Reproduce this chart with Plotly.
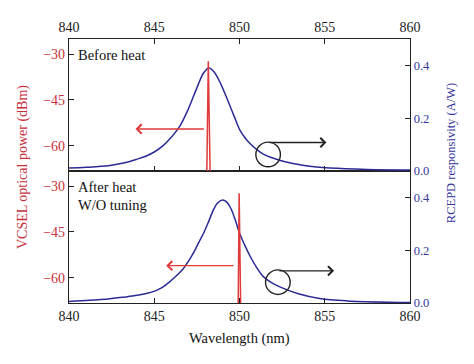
import plotly.graph_objects as go

# ---------------- data ----------------
wl_top = [840.0, 841.0, 842.4, 843.2, 844.0, 844.5, 845.0, 845.5, 846.0, 846.5, 847.0, 847.5,
          847.9, 848.2, 848.5, 848.9, 849.2, 849.45, 849.7, 850.0, 850.3, 850.6, 851.0, 851.4,
          851.9, 852.4, 853.0, 853.7, 854.5, 855.3, 857.5, 860.0]
resp_top = [0.011, 0.014, 0.021, 0.030, 0.045, 0.056, 0.072, 0.095, 0.128, 0.17, 0.235, 0.315,
            0.372, 0.39, 0.376, 0.33, 0.285, 0.245, 0.205, 0.158, 0.128, 0.105, 0.082, 0.064,
            0.050, 0.040, 0.030, 0.022, 0.015, 0.011, 0.006, 0.004]

wl_bot = [840.0, 841.2, 842.4, 843.2, 844.0, 844.6, 845.1, 845.5, 845.9, 846.3, 846.7, 847.0,
          847.3, 847.6, 847.9, 848.2, 848.45, 848.7, 849.0, 849.25, 849.5, 849.75, 850.0, 850.3,
          850.6, 851.0, 851.4, 851.9, 852.4, 853.4, 854.7, 856.3, 860.0]
resp_bot = [0.006, 0.010, 0.016, 0.022, 0.029, 0.037, 0.047, 0.060, 0.080, 0.103, 0.13, 0.158,
            0.19, 0.228, 0.265, 0.31, 0.35, 0.378, 0.39, 0.382, 0.357, 0.315, 0.265, 0.22,
            0.18, 0.135, 0.10, 0.076, 0.06, 0.036, 0.017, 0.008, 0.002]

vcsel_wl_top = [848.08, 848.17, 848.28]
vcsel_pw_top = [-70.0, -32.4, -70.0]
vcsel_wl_bot = [849.92, 849.98, 850.07]
vcsel_pw_bot = [-70.0, -32.4, -70.0]

x_ticks = [840, 845, 850, 855, 860]
p_ticks = [-30, -45, -60]
r_ticks = [0.0, 0.2, 0.4]

# arrow / circle annotation positions (data coordinates)
top_red_arrow = dict(tail=(848.0, -54.5), tip=(843.9, -54.5))
top_circle = (851.68, -62.8)
top_black_arrow = dict(tail=(851.68, -58.9), tip=(855.1, -58.9))
bot_red_arrow = dict(tail=(849.74, -56.0), tip=(845.7, -56.0))
bot_circle = (852.25, -61.4)
bot_black_arrow = dict(tail=(852.25, -57.7), tip=(855.55, -57.7))

# ---------------- style ----------------
FONT = "Liberation Serif, Times New Roman, DejaVu Serif, serif"
BLUE = "#2b2b96"
RED = "#e03a3a"
RED_TXT = "#c8303a"
BLUE_TXT = "#35359a"
AX = "#222222"
P_RANGE = [-68.2, -25.1]
R_RANGE = [0, 0.5]

fig = go.Figure()

# blue responsivity (base axes)
fig.add_trace(go.Scatter(x=wl_top, y=resp_top, mode="lines", line=dict(color=BLUE, width=1.5, shape="spline"),
                         xaxis="x2", yaxis="y3", showlegend=False))
fig.add_trace(go.Scatter(x=wl_bot, y=resp_bot, mode="lines", line=dict(color=BLUE, width=1.5, shape="spline"),
                         xaxis="x", yaxis="y", showlegend=False))
# red VCSEL (overlaying axes)
fig.add_trace(go.Scatter(x=vcsel_wl_top, y=vcsel_pw_top, mode="lines", line=dict(color=RED, width=1.5),
                         xaxis="x2", yaxis="y4", showlegend=False))
fig.add_trace(go.Scatter(x=vcsel_wl_bot, y=vcsel_pw_bot, mode="lines", line=dict(color=RED, width=1.5),
                         xaxis="x", yaxis="y2", showlegend=False))

tickfont = dict(family=FONT, size=14, color=AX)
common_x = dict(range=[840, 860], tickvals=x_ticks, showline=True, linecolor=AX, linewidth=1.3,
                ticks="inside", ticklen=5, tickcolor=AX, tickwidth=1.2, showgrid=False, zeroline=False,
                tickfont=tickfont)

# page body has an 8px default margin, so the figure is sized/offset to compensate
fig.update_layout(
    width=466, height=356,
    margin=dict(l=61, r=64, t=26, b=61),
    paper_bgcolor="white", plot_bgcolor="white",
    font=dict(family=FONT),
    xaxis=dict(**common_x, domain=[0, 1], anchor="y", side="bottom", mirror=True),
    xaxis2=dict(**common_x, domain=[0, 1], anchor="y3", side="top", mirror="ticks"),
    yaxis=dict(domain=[0, 0.5], anchor="x", side="right", range=R_RANGE, tickvals=r_ticks,
               tickformat=".1f", showline=True, linecolor=AX, linewidth=1.3, ticks="inside",
               ticklen=5, tickcolor=AX, showgrid=False, zeroline=False,
               tickfont=dict(family=FONT, size=12.5, color=BLUE_TXT)),
    yaxis2=dict(overlaying="y", anchor="x", side="left", range=P_RANGE, tickvals=p_ticks,
                showline=True, linecolor=AX, linewidth=1.3, ticks="inside", ticklen=5, tickcolor=AX,
                showgrid=False, zeroline=False, tickfont=dict(family=FONT, size=14, color=RED_TXT)),
    yaxis3=dict(domain=[0.5, 1], anchor="x2", side="right", range=R_RANGE, tickvals=r_ticks,
                tickformat=".1f", showline=True, linecolor=AX, linewidth=1.3, ticks="inside",
                ticklen=5, tickcolor=AX, showgrid=False, zeroline=False,
                tickfont=dict(family=FONT, size=12.5, color=BLUE_TXT)),
    yaxis4=dict(overlaying="y3", anchor="x2", side="left", range=P_RANGE, tickvals=p_ticks,
                showline=True, linecolor=AX, linewidth=1.3, ticks="inside", ticklen=5, tickcolor=AX,
                showgrid=False, zeroline=False, tickfont=dict(family=FONT, size=14, color=RED_TXT)),
)

def arrow(a, xref, yref, color):
    fig.add_annotation(x=a["tip"][0], y=a["tip"][1], ax=a["tail"][0], ay=a["tail"][1],
                       xref=xref, yref=yref, axref=xref, ayref=yref, text="", showarrow=True,
                       arrowhead=4, arrowsize=1.3, arrowwidth=1.4, arrowcolor=color)

arrow(top_red_arrow, "x2", "y4", RED)
arrow(top_black_arrow, "x2", "y4", AX)
arrow(bot_red_arrow, "x", "y2", RED)
arrow(bot_black_arrow, "x", "y2", AX)

for (cx, cy), xr, yr in [(top_circle, "x2", "y4"), (bot_circle, "x", "y2")]:
    fig.add_shape(type="circle", xref=xr, yref=yr, xsizemode="pixel", ysizemode="pixel",
                  xanchor=cx, yanchor=cy, x0=-12.3, x1=12.3, y0=-12.3, y1=12.3,
                  line=dict(color=AX, width=1.4))

txt = dict(family=FONT, size=14.5, color="#111111")
fig.add_annotation(xref="paper", yref="paper", x=0.0205, y=0.9405, text="Before heat",
                   showarrow=False, xanchor="left", yanchor="middle", font=txt)
fig.add_annotation(xref="paper", yref="paper", x=0.0205, y=0.4387, text="After heat",
                   showarrow=False, xanchor="left", yanchor="middle", font=txt)
fig.add_annotation(xref="paper", yref="paper", x=0.0205, y=0.3706, text="W/O tuning",
                   showarrow=False, xanchor="left", yanchor="middle", font=txt)

fig.add_annotation(xref="paper", yref="paper", x=-0.135, y=0.515, text="VCSEL optical power (dBm)",
                   textangle=-90, showarrow=False, xanchor="center", yanchor="middle",
                   font=dict(family=FONT, size=14, color=RED_TXT))
fig.add_annotation(xref="paper", yref="paper", x=1.119, y=0.566, text="RCEPD responsivity (A/W)",
                   textangle=-90, showarrow=False, xanchor="center", yanchor="middle",
                   font=dict(family=FONT, size=12.5, color=BLUE_TXT))
fig.add_annotation(xref="paper", yref="paper", x=0.5, y=-0.134, text="Wavelength (nm)",
                   showarrow=False, xanchor="center", yanchor="middle",
                   font=dict(family=FONT, size=14.5, color="#111111"))

fig.write_html("out.html")
